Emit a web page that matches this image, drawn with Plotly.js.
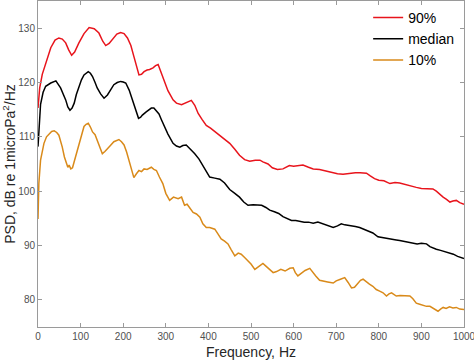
<!DOCTYPE html>
<html>
<head>
<meta charset="utf-8">
<script src="https://cdn.plot.ly/plotly-3.0.1.min.js"></script>
<style>html,body{margin:0;padding:0;background:#fff;overflow:hidden;}#chart{width:474px;height:360px;}</style>
</head>
<body>
<div id="chart"></div>
<script>
// Frequency (Hz) and PSD (dB)
const freq90 = [0,4,10,18,30,40,49,57,65,72,79,86,96,108,120,132,143,152,159,167,175,185,194,202,210,218,225,231,237,243,249,256,262,270,276,282,290,297,305,317,325,337,348,360,368,376,385,395,405,415,427,438,450,462,473,485,497,510,521,528,540,550,562,575,590,600,612,622,635,646,661,675,690,703,716,730,745,756,771,780,790,800,812,826,838,849,862,875,888,900,912,920,927,935,943,951,959,967,974,982,990,998,1000];
const psd90 = [115.3,119.0,121.5,123.6,126.4,127.8,128.2,128.0,127.3,126.0,125.0,125.6,127.3,129.0,130.1,129.9,129.1,127.6,126.8,127.2,127.9,128.9,129.2,129.0,128.2,126.8,124.8,122.9,121.4,121.5,122.0,122.3,122.4,122.7,123.1,123.3,121.6,120.1,118.5,116.8,116.2,115.9,116.3,116.7,115.8,114.3,113.2,112.1,111.6,111.0,110.3,109.6,108.8,107.7,106.6,105.8,105.5,105.7,105.7,105.4,105.0,104.3,104.0,104.1,104.7,104.6,104.7,104.8,104.4,104.1,104.0,103.7,103.4,103.2,103.1,103.3,103.4,103.4,103.3,102.8,102.3,102.0,101.9,101.4,101.6,101.5,101.2,100.9,100.7,100.5,100.5,100.4,100.4,100.0,99.4,98.9,98.5,98.0,98.2,98.3,97.9,97.7,97.6];

const freqMed = [0,3,6,12,18,30,42,53,60,65,70,75,80,85,90,96,102,108,118,123,128,134,139,147,155,163,170,178,186,194,200,206,214,222,229,236,241,245,254,260,266,272,278,284,290,297,305,317,325,333,340,348,357,368,378,387,395,403,415,427,438,450,462,473,483,493,505,516,525,535,544,555,565,575,585,595,605,614,625,635,646,657,668,680,693,703,712,720,735,745,755,765,776,786,798,810,820,830,841,849,862,873,880,890,900,912,920,928,935,945,955,966,975,985,993,1000];
const psdMed = [108.2,111.5,116.0,118.2,119.3,119.9,120.3,119.0,117.8,116.8,115.5,114.9,115.3,116.2,117.8,119.3,120.5,121.4,122.0,121.7,121.1,120.0,119.0,117.9,117.1,117.7,118.7,119.6,120.0,120.2,120.1,119.9,118.6,116.8,115.0,113.4,113.6,114.0,114.6,115.0,115.3,115.3,114.8,114.2,113.1,111.9,110.5,108.8,108.3,108.1,108.4,108.5,107.8,106.9,105.9,104.8,103.7,102.6,102.4,102.2,101.5,100.3,99.6,98.9,98.0,97.4,97.5,97.4,97.4,97.0,96.5,96.2,95.9,95.3,94.9,94.6,94.6,94.4,94.3,94.3,94.1,94.3,94.0,93.6,93.3,93.6,94.0,93.8,93.7,93.5,93.3,93.0,92.7,92.3,91.6,91.4,91.3,91.1,91.0,90.9,90.7,90.6,90.4,90.3,90.4,90.3,89.8,89.5,89.3,89.1,88.9,88.7,88.4,88.0,87.8,87.6];

const freq10 = [0,2,6,10,14,20,26,32,38,44,49,53,57,62,67,70,73,77,81,85,90,96,102,108,113,118,123,128,134,139,145,151,157,163,170,178,184,190,196,202,208,214,220,225,231,237,243,249,256,262,266,272,278,285,293,300,309,318,329,337,344,350,356,364,372,380,387,395,403,409,415,422,430,438,446,453,462,470,477,485,493,500,509,516,520,528,535,544,552,560,570,580,591,599,604,610,618,627,638,645,652,661,670,680,693,700,710,720,728,736,743,750,757,763,770,778,786,794,802,810,818,824,830,836,841,850,860,873,880,888,896,904,912,920,928,935,939,945,951,958,966,974,982,990,998,1000];
const psd10 = [94.9,101.4,105.7,107.5,108.8,110.0,110.6,111.0,111.1,110.8,110.3,109.4,108.1,106.3,104.8,104.4,104.8,104.1,104.3,105.4,107.0,108.8,110.5,111.9,112.3,112.5,111.8,110.9,110.4,109.4,108.3,106.9,107.3,107.9,108.4,109.1,109.3,109.5,109.1,108.5,107.2,105.7,103.8,102.5,103.2,103.8,103.6,104.1,104.0,104.3,104.4,104.0,103.8,102.6,101.4,99.6,98.3,98.9,98.6,98.9,97.4,97.6,97.0,96.1,95.8,95.2,94.0,93.3,93.3,93.1,93.0,92.2,91.2,90.8,90.3,89.3,88.1,88.6,88.4,87.8,87.2,86.6,85.6,86.0,86.2,86.7,86.2,85.5,85.0,85.2,85.6,85.3,85.8,85.9,85.0,84.4,84.9,85.4,85.8,85.0,84.4,83.6,83.4,83.3,83.1,83.5,83.8,84.1,83.2,82.2,82.3,83.0,83.6,83.8,83.3,82.9,82.5,81.9,81.6,81.3,80.7,81.1,81.3,80.9,80.7,80.8,80.8,80.7,80.2,79.4,79.2,79.0,78.8,78.8,78.4,78.0,77.9,78.3,78.6,78.4,78.7,78.5,78.6,78.3,78.2,78.2];

const seriesNames = ['90%', 'median', '10%'];
const xTickVals = [0,100,200,300,400,500,600,700,800,900,1000];
const yTickVals = [80,90,100,110,120,130];

const traces = [
  {x: freq90, y: psd90, name: seriesNames[0], type: 'scatter', mode: 'lines', line: {color: '#e8141c', width: 1.5}},
  {x: freqMed, y: psdMed, name: seriesNames[1], type: 'scatter', mode: 'lines', line: {color: '#000000', width: 1.5}},
  {x: freq10, y: psd10, name: seriesNames[2], type: 'scatter', mode: 'lines', line: {color: '#d98a1a', width: 1.5}}
];

const axisCommon = {
  showline: true, linecolor: '#9a9a9a', linewidth: 1, mirror: 'ticks',
  ticks: 'inside', ticklen: 4, tickcolor: '#9a9a9a', tickwidth: 1,
  showgrid: false, zeroline: false, ticklabeloverflow: 'allow',
  tickfont: {family: 'Liberation Sans, Arial, sans-serif', size: 10, color: '#505050'}
};

const layout = {
  width: 474, height: 360,
  margin: {l: 38, r: 10, t: 1, b: 33},
  paper_bgcolor: '#ffffff', plot_bgcolor: '#ffffff',
  showlegend: true,
  legend: {x: 0.775, y: 0.997, xanchor: 'left', yanchor: 'top', bgcolor: 'rgba(0,0,0,0)', borderwidth: 0,
    font: {family: 'Liberation Sans, Arial, sans-serif', size: 14, color: '#000'}, itemwidth: 30, tracegroupgap: 0},
  xaxis: Object.assign({}, axisCommon, {range: [0, 1000], tickvals: xTickVals, ticktext: xTickVals.map(String),
    title: {text: 'Frequency, Hz', font: {family: 'Liberation Sans, Arial, sans-serif', size: 14, color: '#262626'}, standoff: 6}}),
  yaxis: Object.assign({}, axisCommon, {range: [75, 135], tickvals: yTickVals, ticktext: yTickVals.map(String),
    title: {text: 'PSD, dB re 1microPa<sup>2</sup>/Hz', font: {family: 'Liberation Sans, Arial, sans-serif', size: 14, color: '#262626'}, standoff: 6}})
};

Plotly.newPlot('chart', traces, layout, {displayModeBar: false, staticPlot: true});
</script>
</body>
</html>
